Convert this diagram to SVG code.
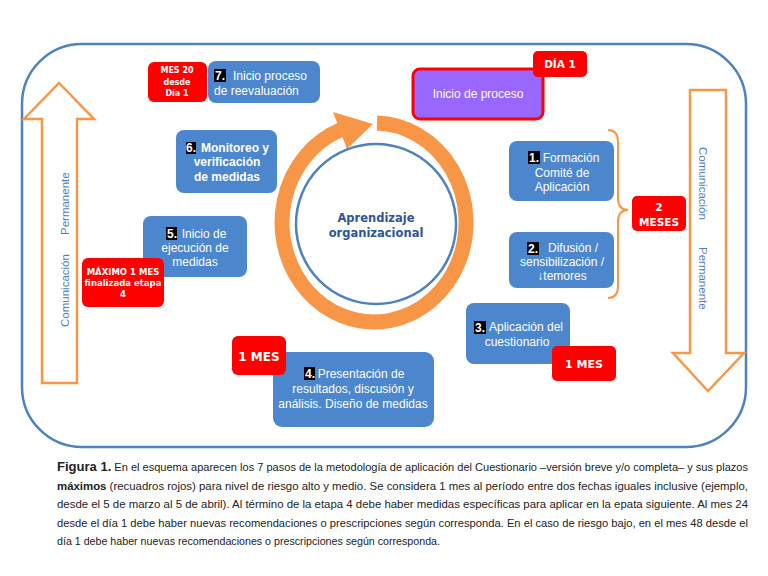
<svg xmlns="http://www.w3.org/2000/svg" width="768" height="576" viewBox="0 0 768 576">
<defs>
<style>
.frame{fill:none;stroke:#4F81BD;stroke-width:2.5}
.arrow{fill:#fff;stroke:#F79646;stroke-width:2.5}
.comm{font-family:"Liberation Sans",Arial,sans-serif;font-size:11.5px;fill:#4F81BD}
.box{fill:#4C86CD}
.red{fill:#FF0000}
.bt{font-family:"Liberation Sans",Arial,sans-serif;font-size:12px;fill:#fff;text-anchor:middle}
.rt{font-family:"DejaVu Sans",Verdana,sans-serif;font-weight:bold;fill:#fff;text-anchor:middle}
.num{fill:#000}
.nt{font-family:"Liberation Sans",Arial,sans-serif;font-weight:bold;font-size:12px;fill:#fff}
.cap{font-family:"Liberation Sans",Arial,sans-serif;font-size:10.6px;fill:#222}
.ctr{font-family:"DejaVu Sans",Verdana,sans-serif;font-weight:bold;font-size:11.5px;fill:#2F5496;text-anchor:middle}
</style>
</defs>
<rect width="768" height="576" fill="#fff"/>

<g id="frame">
<rect x="22" y="44" width="724" height="403" rx="60" class="frame"/>
</g>

<g id="left-arrow">
<polygon class="arrow" points="42,383 42,119 24,119 59,83 94,119 77,119 77,383"/>
<text class="comm" transform="translate(69,327) rotate(-90)">Comunicación</text>
<text class="comm" transform="translate(69,235) rotate(-90)">Permanente</text>
</g>

<g id="right-arrow">
<polygon class="arrow" points="690,90 726,90 726,353 744,353 708,391 673,353 690,353"/>
<text class="comm" transform="translate(699,147) rotate(90)">Comunicación</text>
<text class="comm" transform="translate(699,247) rotate(90)">Permanente</text>
</g>

<g id="cycle">
<path d="M377,123 A92,99.5 0 1 1 341,129.6" fill="none" stroke="#F79646" stroke-width="15"/>
<polygon points="373,124 333,112 347,149" fill="#F79646"/>
<circle cx="376" cy="224" r="80" fill="#fff" stroke="#4F81BD" stroke-width="2.5"/>
<text class="ctr" x="376" y="222">Aprendizaje</text>
<text class="ctr" x="376" y="237">organizacional</text>
</g>

<g id="inicio">
<rect x="413" y="69" width="130" height="50" rx="7" fill="#9966FF" stroke="#FF0000" stroke-width="3"/>
<text class="bt" x="478" y="98">Inicio de proceso</text>
</g>
<g id="dia1">
<rect class="red" x="533" y="51" width="54" height="26" rx="5"/>
<text class="rt" x="560" y="68" font-size="10.5">DÍA 1</text>
</g>

<g id="step1">
<rect class="box" x="509" y="141" width="105" height="60" rx="8"/>
<rect class="num" x="528" y="151" width="12" height="13"/>
<text class="nt" x="529" y="162">1.</text>
<text class="bt" x="571" y="162">Formación</text>
<text class="bt" x="562" y="177">Comité de</text>
<text class="bt" x="562" y="191">Aplicación</text>
</g>

<g id="step2">
<rect class="box" x="509" y="232" width="105" height="56" rx="8"/>
<rect class="num" x="527" y="242" width="12" height="13"/>
<text class="nt" x="528" y="253">2.</text>
<text class="bt" x="573" y="252">Difusión /</text>
<text class="bt" x="562" y="266">sensibilización /</text>
<text class="bt" x="562" y="280">↓temores</text>
</g>

<g id="meses2">
<path d="M608,130 Q618,130 618,142 L618,198 Q618,210 628,210 Q618,210 618,222 L618,286 Q618,298 608,298" fill="none" stroke="#F79646" stroke-width="2"/>
<rect class="red" x="632" y="196" width="54" height="35" rx="5"/>
<text class="rt" x="659" y="211" font-size="10.5">2</text>
<text class="rt" x="659" y="226" font-size="10.5">MESES</text>
</g>

<g id="step3">
<rect class="box" x="466" y="303" width="104" height="61" rx="8"/>
<rect class="num" x="474" y="321" width="12" height="13"/>
<text class="nt" x="475" y="332">3.</text>
<text class="bt" x="526" y="331">Aplicación del</text>
<text class="bt" x="517" y="346">cuestionario</text>
</g>
<g id="mes1-right">
<rect class="red" x="552" y="346" width="64" height="35" rx="5"/>
<text class="rt" x="584" y="368" font-size="11">1 MES</text>
</g>

<g id="step4">
<rect class="box" x="273" y="352" width="161" height="75" rx="9"/>
<rect class="num" x="304" y="367" width="11" height="13"/>
<text class="nt" x="305" y="378">4.</text>
<text class="bt" x="361" y="378">Presentación de</text>
<text class="bt" x="353" y="393">resultados, discusión y</text>
<text class="bt" x="353" y="408">análisis. Diseño de medidas</text>
</g>
<g id="mes1-left">
<rect class="red" x="232" y="336" width="54" height="39" rx="6"/>
<text class="rt" x="259" y="361" font-size="12">1 MES</text>
</g>

<g id="step5">
<rect class="box" x="143" y="216" width="104" height="61" rx="8"/>
<rect class="num" x="166" y="227" width="11" height="13"/>
<text class="nt" x="167" y="238">5.</text>
<text class="bt" x="204" y="238">Inicio de</text>
<text class="bt" x="195" y="252">ejecución de</text>
<text class="bt" x="195" y="266">medidas</text>
</g>
<g id="maximo">
<rect class="red" x="82" y="258" width="82" height="49" rx="6"/>
<text class="rt" x="123" y="275" font-size="8.5">MÁXIMO 1 MES</text>
<text class="rt" x="123" y="286" font-size="8.5">finalizada etapa</text>
<text class="rt" x="123" y="297" font-size="8.5">4</text>
</g>

<g id="step6">
<rect class="box" x="176" y="130" width="101" height="63" rx="8"/>
<rect class="num" x="186" y="142" width="10" height="12"/>
<text class="nt" x="186" y="152" font-size="11">6.</text>
<text class="bt" x="235" y="152" font-weight="bold" font-size="11">Monitoreo  y</text>
<text class="bt" x="227" y="166" font-weight="bold" font-size="11">verificación</text>
<text class="bt" x="227" y="181" font-weight="bold" font-size="11">de medidas</text>
</g>

<g id="step7">
<rect class="box" x="208" y="61" width="112" height="42" rx="8"/>
<rect class="num" x="214" y="69" width="12" height="13"/>
<text class="nt" x="215" y="80">7.</text>
<text class="bt" x="233" y="80" style="text-anchor:start">Inicio proceso</text>
<text class="bt" x="214" y="95" style="text-anchor:start">de reevaluación</text>
</g>
<g id="mes20">
<rect class="red" x="148" y="62" width="59" height="40" rx="6"/>
<text class="rt" x="177" y="73" font-size="8">MES 20</text>
<text class="rt" x="177" y="85" font-size="8">desde</text>
<text class="rt" x="177" y="96" font-size="8">Día 1</text>
</g>

<g id="caption">
<text class="cap" x="57" y="471" textLength="691" lengthAdjust="spacingAndGlyphs"><tspan font-weight="bold" font-size="12.5">Figura 1.</tspan> En el esquema aparecen los 7 pasos de la metodología de aplicación del Cuestionario –versión breve y/o completa– y sus plazos</text>
<text class="cap" x="57" y="490" textLength="691" lengthAdjust="spacingAndGlyphs"><tspan font-weight="bold">máximos</tspan> (recuadros rojos) para nivel de riesgo alto y medio. Se considera 1 mes al período entre dos fechas iguales inclusive (ejemplo,</text>
<text class="cap" x="57" y="508" textLength="691" lengthAdjust="spacingAndGlyphs">desde el 5 de marzo al 5 de abril). Al término de la etapa 4 debe haber medidas específicas para aplicar en la epata siguiente. Al mes 24</text>
<text class="cap" x="57" y="527" textLength="691" lengthAdjust="spacingAndGlyphs">desde el día 1 debe haber nuevas recomendaciones o prescripciones según corresponda. En el caso de riesgo bajo, en el mes 48 desde el</text>
<text class="cap" x="57" y="545" textLength="383" lengthAdjust="spacingAndGlyphs">día 1 debe haber nuevas recomendaciones o prescripciones según corresponda.</text>
</g>
</svg>
